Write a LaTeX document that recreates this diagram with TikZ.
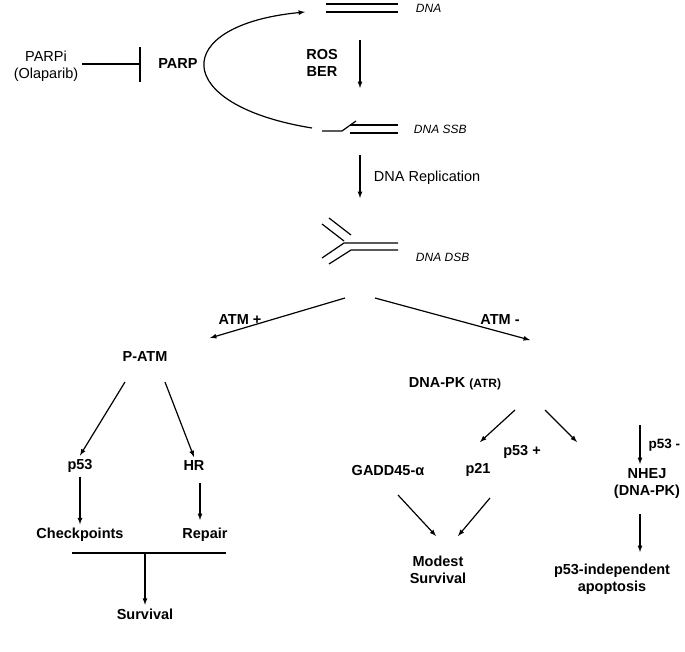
\documentclass[tikz,border=0pt]{standalone}
\usepackage{fontspec}
\setmainfont{Liberation Sans}
\usetikzlibrary{calc}
\begin{document}
\begin{tikzpicture}[x=1pt,y=-1pt,line width=1.2pt,black,
    lab/.style={font=\bfseries\fontsize{14.5}{17}\selectfont,align=center},
    nlab/.style={font=\fontsize{14.5}{17}\selectfont,align=center},
    dna/.style={font=\itshape\fontsize{12}{14}\selectfont,anchor=west},
    arr/.style={->,>=latex}]
    \useasboundingbox (0,0) rectangle (685,651);

    %inhibitor
    \node[nlab] (parpi) at (46,66) {PARPi\\(Olaparib)};
    \node[lab] (parp) at (178,64) {PARP};
    \coordinate (bar) at (140,64);
    \draw (parpi.east |- bar) -- (bar);
    \draw (140,47) -- (140,82);
    %cycle
    \draw[arr] (312,128) .. controls (170,105) and (170,25) .. (305,12);

    %dna strands
    \draw (326,4) -- (398,4) (326,12) -- (398,12);
    \node[dna] (dna) at (412,8) {DNA};
    \node[lab] (ros) at (322,63) {ROS\\BER};
    \coordinate (a1) at (360,40);
    \coordinate (a2) at (360,88);
    \draw[arr] (a1) -- (a2);
    \draw (322,131) -- (342,131) -- (356,121);
    \draw (350,125) -- (398,125) (350,133) -- (398,133);
    \node[dna] (ssb) at (410,129) {DNA SSB};
    \coordinate (b1) at (360,155);
    \coordinate (b2) at (360,198);
    \draw[arr] (b1) -- (b2);
    \node[nlab,anchor=west] (rep) at (370,178) {DNA Replication};
    \draw (322,224) -- (344,241) (329,218) -- (351,235);
    \draw (322,258) -- (344,243) -- (398,243) (329,264) -- (351,250) -- (398,250);
    \node[dna] (dsb) at (412,257) {DNA DSB};

    %branches
    \coordinate (c1) at (345,298);
    \coordinate (c2) at (375,298);
    \node[lab] (patm) at (145,357) {P-ATM};
    \node[lab] (dnapk) at (455,384) {DNA-PK \fontsize{12}{14}\selectfont(ATR)};
    \draw[arr] (c1) -- (210,338);
    \draw[arr] (c2) -- (530,340);
    \node[lab] (atmp) at (240,320) {ATM +};
    \node[lab] (atmm) at (500,320) {ATM -};

    %left side
    \node[lab] (p53) at (80,466) {p53};
    \node[lab] (hr) at (194,466) {HR};
    \draw[arr] (125,382) -- (p53.north);
    \draw[arr] (165,382) -- (hr.north);
    \node[lab] (chk) at (80,535) {Checkpoints};
    \node[lab] (repair) at (205,535) {Repair};
    \draw[arr] (p53) -- (chk);
    \draw[arr] (200,483) -- (200,520);
    \draw (72,553) -- (226,553);
    \node[lab] (surv) at (145,614) {Survival};
    \draw[arr] (145,553) -- (surv.north);

    %right side
    \node[lab] (gadd) at (388,470) {GADD45-α};
    \node[lab] (p21) at (478,470) {p21};
    \node[lab] (nhej) at (647,484) {NHEJ\\(DNA-PK)};
    \draw[arr] (515,410) -- (480,442);
    \draw[arr] (545,410) -- (577,442);
    \node[lab] (p53p) at (522,452) {p53 +};
    \draw[arr] (640,425) -- (640,464);
    \node[lab,anchor=west,inner sep=0pt,font=\bfseries\fontsize{13.5}{16}\selectfont] (p53m) at (648,445) {p53 -};
    \node[lab] (modest) at (438,570) {Modest\\Survival};
    \draw[arr] (398,495) -- (436,536);
    \draw[arr] (490,498) -- (458,536);
    \node[lab] (apo) at (612,579) {p53-independent\\apoptosis};
    \draw[arr] (640,514) -- (640,552);
\end{tikzpicture}
\end{document}
